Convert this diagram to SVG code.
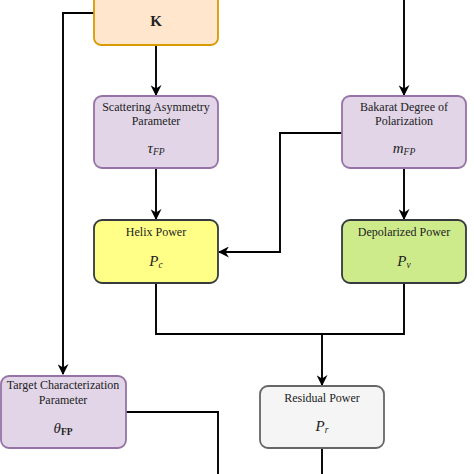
<svg xmlns="http://www.w3.org/2000/svg" width="474" height="474" viewBox="0 0 474 474">
<defs>
<marker id="ah" viewBox="0 0 10 10" refX="9" refY="5" markerWidth="11" markerHeight="11" orient="auto" markerUnits="userSpaceOnUse">
<path d="M0,0 L10,5 L0,10 L3,5 Z" fill="#000"/>
</marker>
<style>
.box{stroke-width:1.8}
.t{font-family:"Liberation Serif",serif;font-size:12px;fill:#222;text-anchor:middle}
.m{font-family:"Liberation Serif",serif;font-size:15px;font-style:italic;fill:#222;text-anchor:middle}
.s{font-size:9.5px}
.c{fill:none;stroke:#000;stroke-width:1.9}
</style>
</defs>
<rect width="474" height="474" fill="#fff"/>
<g id="connectors">
<path class="c" d="M94,13 H63 V374" marker-end="url(#ah)"/>
<path class="c" d="M156,45 V95" marker-end="url(#ah)"/>
<path class="c" d="M404,0 V95" marker-end="url(#ah)"/>
<path class="c" d="M342,133 H280 V252 H219" marker-end="url(#ah)"/>
<path class="c" d="M156,168 V219" marker-end="url(#ah)"/>
<path class="c" d="M404,168 V219" marker-end="url(#ah)"/>
<path class="c" d="M156,283 V334 H404 V283"/>
<path class="c" d="M322,334 V385" marker-end="url(#ah)"/>
<path class="c" d="M126,412 H218 V474"/>
<path class="c" d="M322,448 V474"/>
</g>
<g id="nodeK">
<rect class="box" x="94" y="-20" width="124" height="65" rx="7" fill="#ffe6cc" stroke="#d79b00"/>
<text class="t" x="156" y="26" style="font-weight:bold;font-size:15px">K</text>
</g>
<g id="nodeTau">
<rect class="box" x="94" y="96" width="124" height="72" rx="8" fill="#e1d5e7" stroke="#9673a6"/>
<text class="t" x="156" y="111">Scattering Asymmetry</text>
<text class="t" x="156" y="125">Parameter</text>
<text class="m" x="156" y="153">τ<tspan class="s" dy="2">FP</tspan></text>
</g>
<g id="nodeM">
<rect class="box" x="342" y="96" width="124" height="72" rx="8" fill="#e1d5e7" stroke="#9673a6"/>
<text class="t" x="404" y="111">Bakarat Degree of</text>
<text class="t" x="404" y="125">Polarization</text>
<text class="m" x="404" y="153">m<tspan class="s" dy="2">FP</tspan></text>
</g>
<g id="nodeHelix">
<rect class="box" x="94" y="220" width="124" height="63" rx="8" fill="#ffff88" stroke="#36393d"/>
<text class="t" x="156" y="236">Helix Power</text>
<text class="m" x="156" y="266">P<tspan class="s" dy="2">c</tspan></text>
</g>
<g id="nodeDepol">
<rect class="box" x="342" y="220" width="124" height="63" rx="8" fill="#cdeb8b" stroke="#36393d"/>
<text class="t" x="404" y="236">Depolarized Power</text>
<text class="m" x="404" y="266">P<tspan class="s" dy="2">v</tspan></text>
</g>
<g id="nodeTheta">
<rect class="box" x="1" y="376" width="125" height="72" rx="8" fill="#e1d5e7" stroke="#9673a6"/>
<text class="t" x="63" y="389">Target Characterization</text>
<text class="t" x="63" y="404">Parameter</text>
<text class="m" x="63" y="433">θ<tspan class="s" dy="2" style="font-style:normal;font-weight:bold">FP</tspan></text>
</g>
<g id="nodeResidual">
<rect class="box" x="260" y="386" width="124" height="62" rx="8" fill="#f5f5f5" stroke="#666666"/>
<text class="t" x="322" y="402">Residual Power</text>
<text class="m" x="322" y="431">P<tspan class="s" dy="2">r</tspan></text>
</g>
</svg>
